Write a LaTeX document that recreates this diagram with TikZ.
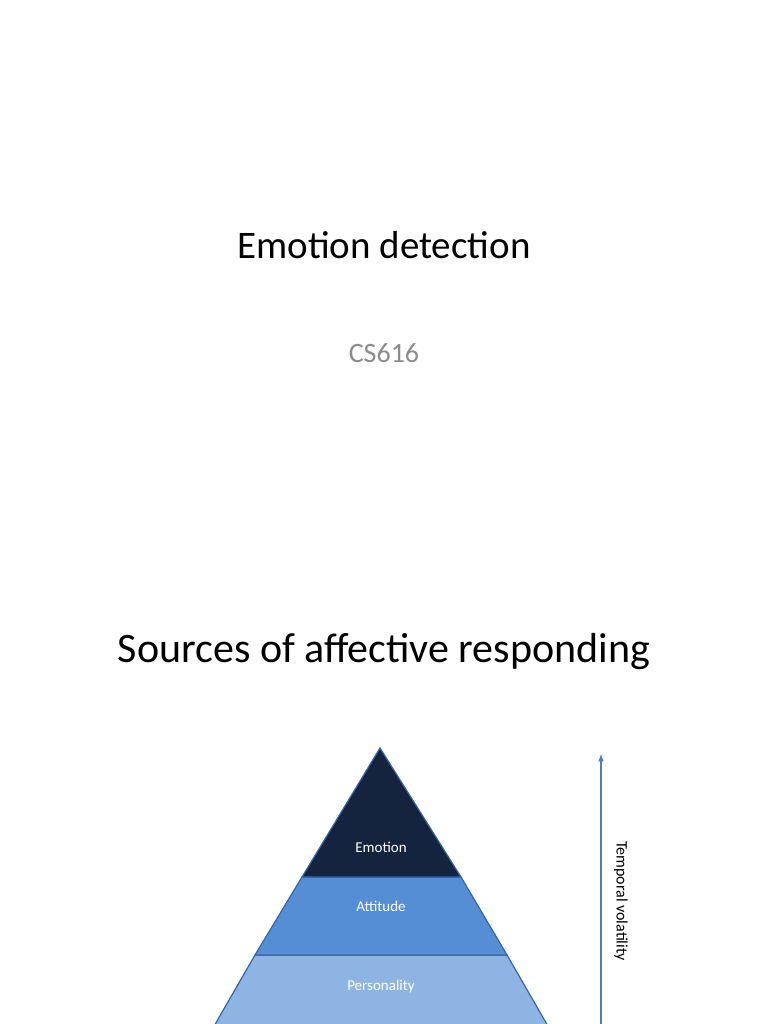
\documentclass[tikz,border=0pt]{standalone}
\usepackage{fontspec}
\setmainfont{Carlito}
\begin{document}
\begin{tikzpicture}[x=1pt,y=-1pt,
  lvl/.style={draw=edgeblue,line width=1.2pt,line join=miter},
  lbl/.style={font=\fontsize{15}{18}\selectfont,text=white}]
\definecolor{edgeblue}{HTML}{3A64A0}
\definecolor{navy}{HTML}{14243F}
\definecolor{midblue}{HTML}{558ED5}
\definecolor{lightblue}{HTML}{8EB4E3}
\definecolor{arrowblue}{HTML}{4A7EC0}
\useasboundingbox (0,0) rectangle (768,1024);
\node (title) at (384,245) {\fontsize{39}{46}\selectfont Emotion detection};
\node[text=gray!90] (sub) at (384,353) {\fontsize{28}{34}\selectfont CS616};
\node (head) at (384,652) {\fontsize{42}{50}\selectfont Sources of affective responding};
\begin{scope}
\clip (0,0) rectangle (768,1024);
\fill[lightblue] (255,955) -- (507,955) -- (556,1040) -- (206,1040) -- cycle;
\draw[lvl] (206,1040) -- (255,955) -- (507,955) -- (556,1040);
\end{scope}
\filldraw[lvl,fill=midblue] (302,877) -- (461,877) -- (507,955) -- (255,955) -- cycle;
\filldraw[lvl,fill=navy] (380,748) -- (461,877) -- (302,877) -- cycle;
\node[lbl] (emo) at (381,847) {Emotion};
\node[lbl] (att) at (381,906) {Attitude};
\node[lbl] (per) at (381,986) {Personality};
\coordinate (abot) at (601,1024);
\coordinate (atop) at (601,754);
\draw[arrowblue,line width=1.5pt,-latex] (abot) -- (atop);
\node[rotate=-90,font=\fontsize{16}{19}\selectfont] (tv) at (621,901) {Temporal volatility};
\end{tikzpicture}
\end{document}
